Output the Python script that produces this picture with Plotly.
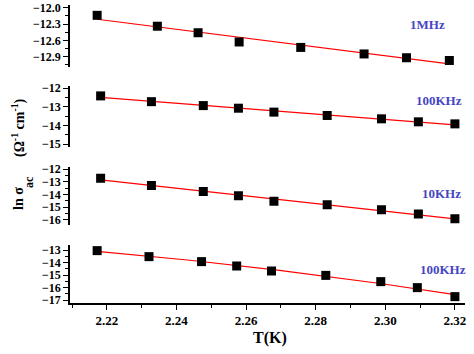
import numpy as np
import plotly.graph_objects as go

# ---- data ----
x_1mhz = [2.2172, 2.2345, 2.2462, 2.2580, 2.2757, 2.2939, 2.3061, 2.3184]
y_1mhz = [-12.14, -12.34, -12.46, -12.63, -12.73, -12.85, -12.92, -12.97]

x_100k_a = [2.2182, 2.2328, 2.2477, 2.2578, 2.2680, 2.2833, 2.2989, 2.3095, 2.3200]
y_100k_a = [-12.41, -12.72, -12.93, -13.07, -13.28, -13.46, -13.64, -13.80, -13.91]

x_10k = [2.2182, 2.2328, 2.2477, 2.2578, 2.2680, 2.2833, 2.2989, 2.3095, 2.3200]
y_10k = [-12.71, -13.29, -13.76, -14.10, -14.52, -14.81, -15.20, -15.54, -15.91]

x_100k_b = [2.2172, 2.2321, 2.2472, 2.2573, 2.2673, 2.2829, 2.2987, 2.3092, 2.3200]
y_100k_b = [-13.05, -13.53, -13.93, -14.28, -14.68, -15.03, -15.53, -16.01, -16.73]

labels = ["1MHz", "100KHz", "10KHz", "100KHz"]
fit_degree = [1, 1, 1, 2]

series = [(x_1mhz, y_1mhz), (x_100k_a, y_100k_a), (x_10k, y_10k), (x_100k_b, y_100k_b)]

W, H = 474, 354
def fy(p):
    return 1 - p / H

ydomains = [(fy(67), fy(5)), (fy(147), fy(86)), (fy(225), fy(166.7)), (fy(303), fy(245))]
yranges = [(-13.09, -11.95), (-15.15, -11.88), (-16.4, -11.8), (-17.24, -12.6)]
ydt = [(0.3, 0.15, ".1f"), (1, 0.5, "d"), (1, 0.5, "d"), (1, 0.5, "d")]
ytick0 = [-12.0, -12, -12, -13]
lab_pos = [(427, 24), (439, 100), (441, 194), (443, 269)]

font_fam = "Liberation Serif"
fig = go.Figure()
xdom = [70 / W, 465 / W]

for i, ((xs, ys), deg) in enumerate(zip(series, fit_degree)):
    n = i + 1
    xa = "x" if n == 1 else f"x{n}"
    ya = "y" if n == 1 else f"y{n}"
    coef = np.polyfit(xs, ys, deg)
    xf = np.linspace(min(xs), max(xs), 50)
    yf = np.polyval(coef, xf)
    fig.add_trace(go.Scatter(x=xf, y=yf, mode="lines", line=dict(color="red", width=1.2),
                             xaxis=xa, yaxis=ya, showlegend=False, hoverinfo="skip"))
    fig.add_trace(go.Scatter(x=xs, y=ys, mode="markers",
                             marker=dict(symbol="square", size=9, color="black"),
                             xaxis=xa, yaxis=ya, showlegend=False))
    dt, mdt, fmt = ydt[i]
    yax = dict(domain=list(ydomains[i]), range=list(yranges[i]), anchor=xa, automargin=False,
               showline=True, linecolor="black", linewidth=1.5, showgrid=False, zeroline=False,
               ticks="outside", ticklen=5, tickwidth=1.2, tickcolor="black",
               tick0=ytick0[i], dtick=dt, tickformat=".1f" if fmt == ".1f" else "d",
               minor=dict(dtick=mdt, ticks="outside", ticklen=3, tickcolor="black", tickwidth=1),
               tickfont=dict(family=font_fam, size=12, color="black", weight="bold"))
    xax = dict(domain=xdom, range=[2.2094, 2.3229], anchor=ya, showgrid=False, zeroline=False,
               automargin=False)
    if n == 4:
        xax.update(showline=True, linecolor="black", linewidth=1.5, ticks="outside", ticklen=5,
                   tickwidth=1.2, tickcolor="black", dtick=0.02, tick0=2.22, tickformat=".2f",
                   minor=dict(dtick=0.01, ticks="outside", ticklen=3, tickcolor="black"),
                   tickfont=dict(family=font_fam, size=13, color="black", weight="bold"))
    else:
        xax.update(visible=False)
    fig.layout["xaxis" if n == 1 else f"xaxis{n}"] = xax
    fig.layout["yaxis" if n == 1 else f"yaxis{n}"] = yax
    lx, ly = lab_pos[i]
    fig.add_annotation(x=lx / W, y=fy(ly), xref="paper", yref="paper", text=labels[i],
                       xanchor="center", yanchor="middle",
                       showarrow=False, font=dict(family=font_fam, size=13, color="#4545c4", weight="bold"))

# axis titles
fig.add_annotation(x=270 / W, y=fy(338), xref="paper", yref="paper", text="T(K)", showarrow=False,
                   xanchor="center", yanchor="middle",
                   font=dict(family=font_fam, size=16, color="black", weight="bold"))
fig.add_annotation(x=18 / W, y=fy(199), xref="paper", yref="paper", text="ln σ", showarrow=False,
                   xanchor="center", yanchor="middle",
                   textangle=-90, font=dict(family=font_fam, size=14, color="black", weight="bold"))
fig.add_annotation(x=29 / W, y=fy(182), xref="paper", yref="paper", text="ac", showarrow=False,
                   xanchor="center", yanchor="middle",
                   textangle=-90, font=dict(family=font_fam, size=12, color="black", weight="bold"))
fig.add_annotation(x=18 / W, y=fy(128), xref="paper", yref="paper",
                   text="(Ω<sup>-1</sup> cm<sup>-1</sup>)", showarrow=False,
                   xanchor="center", yanchor="middle",
                   textangle=-90, font=dict(family=font_fam, size=14, color="black", weight="bold"))

fig.update_layout(width=W, height=H, margin=dict(l=0, r=0, t=0, b=0),
                  plot_bgcolor="white", paper_bgcolor="white")
fig.write_html("out.html")
